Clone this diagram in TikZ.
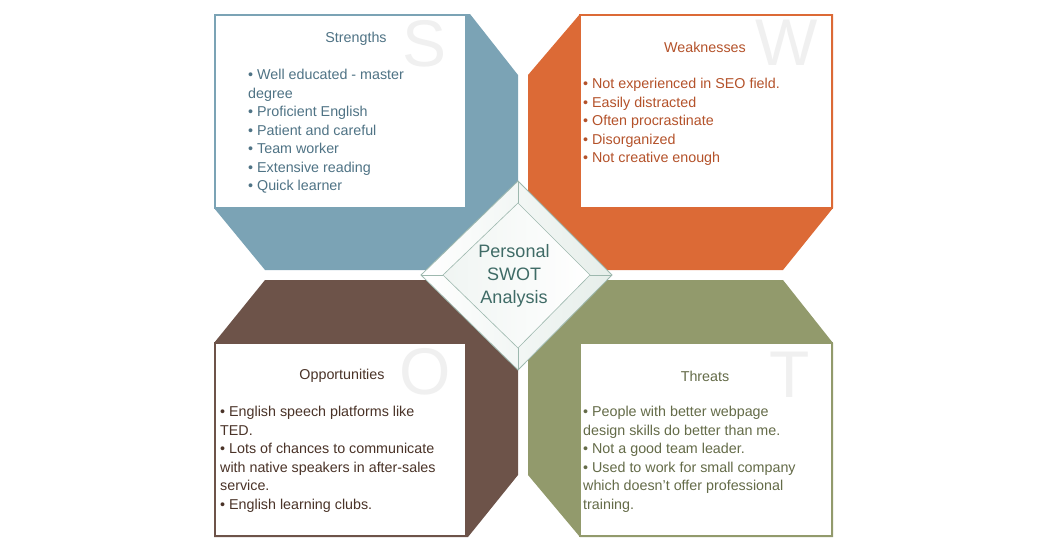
\documentclass[tikz,border=0pt]{standalone}
\usepackage{fontspec}
\setmainfont{Liberation Sans}
\definecolor{cS}{HTML}{7BA3B5}
\definecolor{cW}{HTML}{DC6A36}
\definecolor{cO}{HTML}{6D5349}
\definecolor{cT}{HTML}{929A6C}
\definecolor{tS}{HTML}{4F7385}
\definecolor{tW}{HTML}{B4522A}
\definecolor{tO}{HTML}{4A3328}
\definecolor{tT}{HTML}{646B48}
\definecolor{dia}{HTML}{E6EEEA}
\definecolor{diaL}{HTML}{9DB8AE}
\definecolor{ctr}{HTML}{3F6B66}
\begin{document}
\begin{tikzpicture}[x=1pt,y=-1pt,
  wbox/.style={line width=1.5pt,fill=white},
  body/.style={anchor=north west,align=left,font=\fontsize{14.3}{18.5}\selectfont,inner sep=0pt},
  ttl/.style={font=\fontsize{14.3}{16}\selectfont,inner sep=0pt},
  big/.style={font=\fontsize{66}{66}\selectfont,text=black!6,inner sep=0pt}]
\useasboundingbox (0,0) rectangle (1058,555);
% quadrants
\fill[cS] (214,14)--(470,14)--(518,75)--(518,270)--(265,270)--(214,208)--cycle;
\fill[cW] (580,14)--(833,14)--(833,208)--(783,270)--(528,270)--(528,75)--cycle;
\fill[cO] (265,280)--(518,280)--(518,475)--(468,537)--(214,537)--(214,343)--cycle;
\fill[cT] (528,280)--(783,280)--(833,343)--(833,537)--(580,537)--(528,475)--cycle;
\draw[wbox,draw=cS] (215,15) rectangle (466,208);
\draw[wbox,draw=cW] (580,15) rectangle (832,208);
\draw[wbox,draw=cO] (215,343) rectangle (466,536);
\draw[wbox,draw=cT] (580,343) rectangle (832,536);
% big letters
\node[big] (bS) at (425,44) {S};
\node[big] (bW) at (787,43) {W};
\node[big] (bO) at (425,372) {O};
\node[big] (bT) at (790,375) {T};
% titles
\node[ttl,text=tS] (tiS) at (356,39) {Strengths};
\node[ttl,text=tW] (tiW) at (705,47) {Weaknesses};
\node[ttl,text=tO] (tiO) at (342,376) {Opportunities};
\node[ttl,text=tT] (tiT) at (705,376) {Threats};
% bodies
\node[body,text=tS] (bdS) at (248,69) {\textbullet\ Well educated - master\\degree\\\textbullet\ Proficient English\\\textbullet\ Patient and careful\\\textbullet\ Team worker\\\textbullet\ Extensive reading\\\textbullet\ Quick learner};
\node[body,text=tW] (bdW) at (583,78) {\textbullet\ Not experienced in SEO field.\\\textbullet\ Easily distracted\\\textbullet\ Often procrastinate\\\textbullet\ Disorganized\\\textbullet\ Not creative enough};
\node[body,text=tO] (bdO) at (220,406) {\textbullet\ English speech platforms like\\TED.\\\textbullet\ Lots of chances to communicate\\with native speakers in after-sales\\service.\\\textbullet\ English learning clubs.};
\node[body,text=tT] (bdT) at (583,406) {\textbullet\ People with better webpage\\design skills do better than me.\\\textbullet\ Not a good team leader.\\\textbullet\ Used to work for small company\\which doesn't offer professional\\training.};
% center diamond
\coordinate (oL) at (421,275); \coordinate (oT) at (518,181);
\coordinate (oR) at (612,275); \coordinate (oB) at (518,370);
\coordinate (iL) at (443,275); \coordinate (iT) at (518,203);
\coordinate (iR) at (590,275); \coordinate (iB) at (518,348);
\shade[left color=white,right color=dia,draw=diaL,line width=0.8pt] (oL)--(oT)--(oR)--(oB)--cycle;
\shade[left color=dia!60,right color=white,draw=diaL,line width=0.6pt] (iL)--(iT)--(iR)--(iB)--cycle;
\draw[diaL,line width=0.6pt] (oL)--(iL) (oT)--(iT) (oR)--(iR) (oB)--(iB);
\node[align=center,text=ctr,font=\fontsize{18}{23}\selectfont] (ctrtxt) at (514,276) {Personal\\SWOT\\Analysis};
\end{tikzpicture}
\end{document}
